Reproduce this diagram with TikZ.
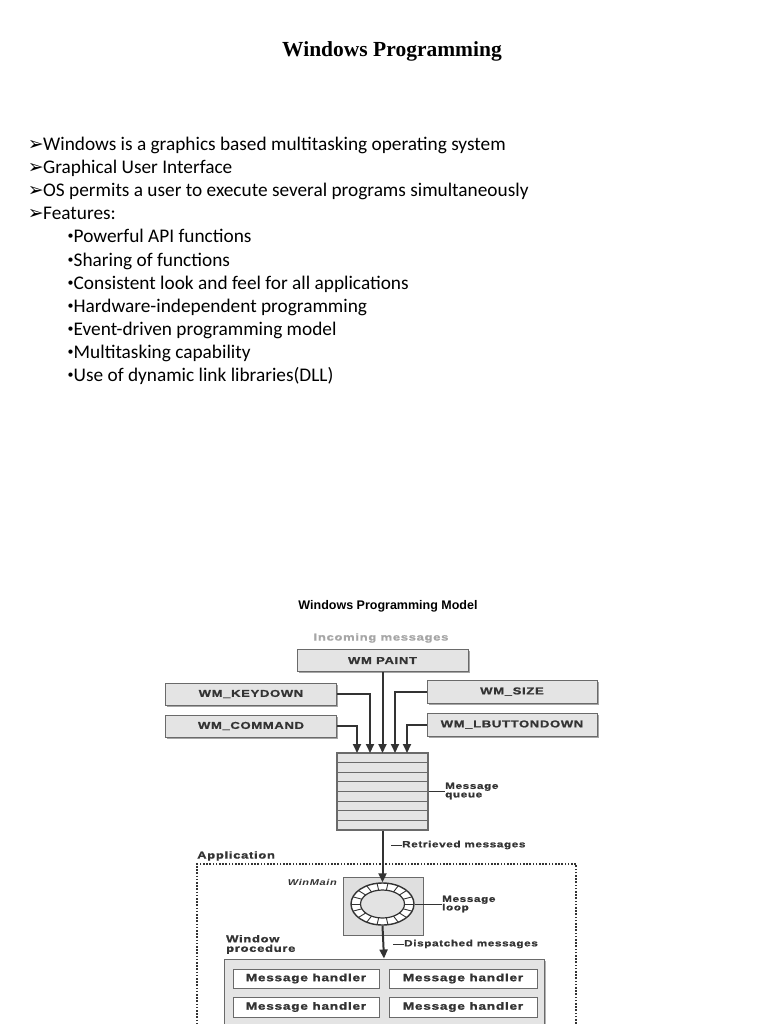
\documentclass[tikz,border=0pt]{standalone}
\usepackage{fontspec}
\setmainfont{Carlito}
\newfontfamily\titlef{Liberation Serif}
\newfontfamily\symf{DejaVu Sans}
\newfontfamily\diagf[FakeStretch=1.3,LetterSpace=7,BoldFeatures={FakeBold=1.2}]{Liberation Sans}
\newfontfamily\modelf{Liberation Sans}
\usetikzlibrary{shapes.geometric,shadows,arrows.meta}
\definecolor{ink}{HTML}{333333}
\definecolor{boxfill}{HTML}{E4E4E4}
\definecolor{boxline}{HTML}{6A6A6A}
\tikzset{
  bul/.style={anchor=base west, inner sep=0pt, font=\fontsize{19.3}{23}\selectfont},
  wmbox/.style={draw=boxline, line width=1pt, fill=boxfill, minimum width=171pt, minimum height=22pt, inner sep=0pt,
    font=\diagf\bfseries\fontsize{10}{10}\selectfont, text=ink,
    drop shadow={shadow xshift=1.5pt, shadow yshift=-1.5pt, fill=gray!70, opacity=1}},
  hbox/.style={draw=boxline, line width=1pt, fill=white, minimum width=146pt, minimum height=19pt, inner sep=0pt,
    font=\diagf\bfseries\fontsize{10.5}{10.5}\selectfont, text=ink,
    drop shadow={shadow xshift=1pt, shadow yshift=-1pt, fill=gray!60, opacity=1}},
  lbl/.style={anchor=west, inner sep=0pt, align=left, font=\diagf\bfseries\fontsize{9}{8.5}\selectfont, text=ink},
  arr/.style={draw=ink, line width=2pt, -{Triangle[length=9pt,width=8pt]}},
  tline/.style={draw=ink, line width=0.9pt},
}
\begin{document}
\begin{tikzpicture}[x=1pt,y=-1pt]
\useasboundingbox (0,0) rectangle (768,1024);
\fill[white] (0,0) rectangle (768,1024);
\clip (0,0) rectangle (768,1024);

% title
\node[anchor=base, inner sep=0pt, font=\titlef\bfseries\fontsize{21.5}{24}\selectfont] (title) at (392,57) {Windows Programming};

% top bullets
\foreach \t [count=\i] in {Windows is a graphics based multitasking operating system,Graphical User Interface,OS permits a user to execute several programs simultaneously,Features:}{
  \node[bul] (b\i) at (43,{151+23*(\i-1)}) {\t};
  \node[anchor=base east, inner sep=0pt, font=\symf\bfseries\fontsize{19}{19}\selectfont] (ba\i) at ([xshift=1pt]b\i.base west) {➢};
}
\foreach \t [count=\i] in {Powerful API functions,Sharing of functions,Consistent look and feel for all applications,Hardware-independent programming,Event-driven programming model,Multitasking capability,Use of dynamic link libraries(DLL)}{
  \node[bul] (s\i) at (73.5,{243+23*(\i-1)}) {\t};
  \node[anchor=base east, inner sep=0pt, font=\fontsize{12}{12}\selectfont] (sb\i) at ([xshift=0.3pt, yshift=3pt]s\i.base west) {\textbullet};
}

% diagram title
\node[inner sep=0pt, font=\modelf\bfseries\fontsize{12.5}{12.5}\selectfont] (mtitle) at (388,606) {Windows Programming Model};
\node[inner sep=0pt, font=\diagf\bfseries\fontsize{10}{10}\selectfont, text=gray!70] (inc) at (381,638) {Incoming messages};

% message boxes
\node[wmbox] (paint) at (382.5,660.5) {WM PAINT};
\node[wmbox] (kd) at (251,694) {WM\_KEYDOWN};
\node[wmbox] (cmd) at (251,726) {WM\_COMMAND};
\node[wmbox, minimum width=170pt, minimum height=23pt] (size) at (512,691.5) {WM\_SIZE};
\node[wmbox, minimum width=170pt, minimum height=23pt] (lbd) at (512,724.5) {WM\_LBUTTONDOWN};

% message queue
\node[draw=boxline, line width=1.2pt, fill=boxfill, minimum width=91pt, minimum height=77pt, inner sep=0pt] (queue) at (382.5,791.5) {};
\foreach \k in {1,...,7}{
  \draw[boxline, line width=0.9pt] (337,{753+\k*77/8}) -- (428,{753+\k*77/8});
}
\coordinate (q1) at (357,753);
\coordinate (q2) at (370,753);
\coordinate (q3) at (382.5,753);
\coordinate (q4) at (395,753);
\coordinate (q5) at (407,753);
\draw[arr] (cmd.east) -| (q1);
\draw[arr] (kd.east) -| (q2);
\draw[arr] (paint.south) -- (q3);
\draw[arr] (size.west) -| (q4);
\draw[arr] (lbd.west) -| (q5);

\node[lbl] (mql) at (445,791) {Message\\queue};
\draw[tline] (queue.east |- mql.west) -- (mql.west);

% application box
\node[draw=ink, line width=1.1pt, dash pattern=on 1.6pt off 1.6pt, minimum width=379pt, minimum height=200pt, inner sep=0pt] (app) at (386.5,964) {};
\node[anchor=west, inner sep=0pt, font=\diagf\bfseries\fontsize{10}{10}\selectfont, text=ink] (appl) at (197,856) {Application};

% WinMain box and ring
\node[draw=boxline, line width=1pt, fill=gray!25, minimum width=80pt, minimum height=58pt, inner sep=0pt] (wm) at (383,906) {};
\node[anchor=east, inner sep=0pt, font=\diagf\bfseries\itshape\fontsize{8.5}{8.5}\selectfont, text=ink] (wml) at (337,882) {WinMain};
\node[ellipse, draw=ink, line width=1.4pt, fill=white, minimum width=63pt, minimum height=42pt, inner sep=0pt] (ring) at (382.5,904) {};
\fill[gray!22] (382.5,904) ellipse [x radius=22, y radius=14];
\draw[ink, line width=1.2pt] (382.5,904) ellipse [x radius=22, y radius=14];
\foreach \a in {0,20,...,340}{
  \draw[ink, line width=0.9pt] ({382.5+22*cos(\a)},{904+14*sin(\a)}) -- ({382.5+31.5*cos(\a)},{904+21*sin(\a)});
}
\node[lbl] (mll) at (442,904) {Message\\loop};
\draw[tline] (ring.east) -- (mll.west);

% retrieved messages
\draw[arr] (queue.south) -- (ring.north);
\node[lbl] (rml) at (402,845) {Retrieved messages};
\draw[tline] (rml.west) -- ++(-11,0);

% window procedure
\node[draw=boxline, line width=1pt, fill=boxfill, minimum width=320pt, minimum height=100pt, inner sep=0pt,
  drop shadow={shadow xshift=1.5pt, shadow yshift=-1.5pt, fill=gray!60, opacity=1}] (wp) at (384,1009) {};
\node[lbl, font=\diagf\bfseries\fontsize{10}{9.5}\selectfont] (wpl) at (226,944.5) {Window\\procedure};
\draw[arr] (ring.south) -- (wp.north);
\node[lbl] (dml) at (404,944) {Dispatched messages};
\draw[tline] (dml.west) -- ++(-11,0);

\node[hbox] (h1) at (306,978.5) {Message handler};
\node[hbox, minimum width=148pt] (h2) at (463,978.5) {Message handler};
\node[hbox, minimum height=20pt] (h3) at (306,1007) {Message handler};
\node[hbox, minimum width=148pt, minimum height=20pt] (h4) at (463,1007) {Message handler};
\end{tikzpicture}
\end{document}
